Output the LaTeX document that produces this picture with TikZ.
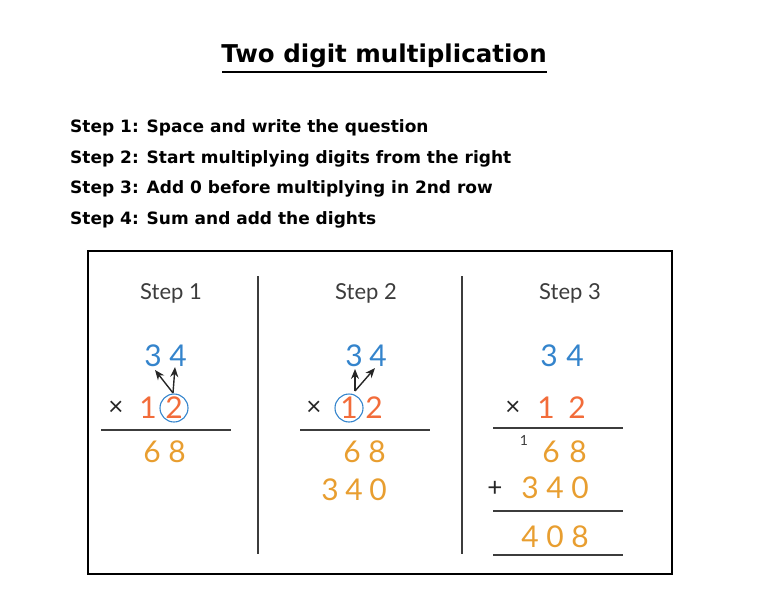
\documentclass[tikz,border=0pt]{standalone}
\usepackage{fontspec}
\usetikzlibrary{arrows.meta}
\setmainfont{DejaVu Sans}
\newfontfamily\numfont{Lato}
\definecolor{nblue}{RGB}{52,132,204}
\definecolor{nred}{RGB}{242,108,58}
\definecolor{norange}{RGB}{232,158,48}
\definecolor{ngray}{RGB}{60,60,60}
\begin{document}
\begin{tikzpicture}[x=1pt,y=-1pt,
  ttl/.style={font=\bfseries\fontsize{24.5}{28}\selectfont},
  stp/.style={font=\bfseries\fontsize{17}{20}\selectfont,anchor=west,inner sep=0pt},
  hdr/.style={font=\numfont\fontsize{22}{26}\selectfont,text=ngray},
  dg/.style={font=\numfont\fontsize{30}{34}\selectfont,inner sep=0pt},
  bl/.style={dg,text=nblue},
  rd/.style={dg,text=nred},
  og/.style={dg,text=norange},
  op/.style={font=\numfont\fontsize{26}{30}\selectfont,inner sep=0pt,text=black!85},
  rule/.style={line width=1.3pt,draw=ngray},
  divider/.style={line width=1.4pt,draw=ngray},
  ring/.style={draw=nblue,line width=1.1pt,circle,minimum size=28pt,inner sep=0pt},
  arr/.style={-{Stealth[length=10pt,width=8pt]},line width=1.4pt,black!85}]
\useasboundingbox (0,0) rectangle (768,594);
\node[ttl] (title) at (384,56) {Two digit multiplication};
\draw[line width=1.8pt] (222,72) -- (547,72);
\node[stp] (s1) at (70,128) {Step 1: Space and write the question};
\node[stp] (s2) at (70,159) {Step 2: Start multiplying digits from the right};
\node[stp] (s3) at (70,189) {Step 3: Add 0 before multiplying in 2nd row};
\node[stp] (s4) at (70,220) {Step 4: Sum and add the dights};
\draw[line width=2.5pt] (88,251) rectangle (672,574);
\draw[divider] (258,276) -- (258,554);
\draw[divider] (462,276) -- (462,554);
\node[hdr] (h1) at (171,293) {Step 1};
\node[hdr] (h2) at (366,293) {Step 2};
\node[hdr] (h3) at (570,293) {Step 3};
% panel 1
\node[bl] (a3) at (153,356) {3};
\node[bl] (a4) at (178,356) {4};
\node[op] (ax) at (116,408) {×};
\node[rd] (a1) at (148,408) {1};
\node[rd] (a2) at (174,408) {2};
\node[ring] (ac) at (174,408) {};
\draw[rule] (101,430) -- (231,430);
\node[og] (a6) at (152,452) {6};
\node[og] (a8) at (177,452) {8};
\coordinate (ab) at (173,393);
\draw[arr] (ab) -- (155,370);
\draw[arr] (ab) -- (175,367);
% panel 2
\node[bl] (b3) at (354,356) {3};
\node[bl] (b4) at (378,356) {4};
\node[op] (bx) at (314,408) {×};
\node[rd] (b1) at (349,408) {1};
\node[rd] (b2) at (374,408) {2};
\node[ring] (bc) at (349,408) {};
\draw[rule] (300,430) -- (430,430);
\node[og] (b6) at (352,452) {6};
\node[og] (b8) at (377,452) {8};
\node[og] (c3) at (330,490) {3};
\node[og] (c4) at (354,490) {4};
\node[og] (c0) at (378,490) {0};
\coordinate (bb) at (355,391);
\draw[arr] (bb) -- (355,369);
\draw[arr] (bb) -- (375,368);
% panel 3
\node[bl] (d3) at (549,356) {3};
\node[bl] (d4) at (575,356) {4};
\node[op] (dx) at (513,408) {×};
\node[rd] (d1) at (546,408) {1};
\node[rd] (d2) at (577,408) {2};
\draw[rule] (493,428) -- (623,428);
\node[font=\numfont\fontsize{14}{16}\selectfont,text=ngray,inner sep=0pt] (carry) at (524,440) {1};
\node[og] (d6) at (551,452) {6};
\node[og] (d8) at (578,452) {8};
\node[op] (dp) at (495,489) {+};
\node[og] (e3) at (530,488) {3};
\node[og] (e4) at (555,488) {4};
\node[og] (e0) at (580,488) {0};
\draw[rule] (493,511) -- (623,511);
\node[og] (f4) at (530,537) {4};
\node[og] (f0) at (555,537) {0};
\node[og] (f8) at (580,537) {8};
\draw[rule] (493,555) -- (623,555);
\end{tikzpicture}
\end{document}
